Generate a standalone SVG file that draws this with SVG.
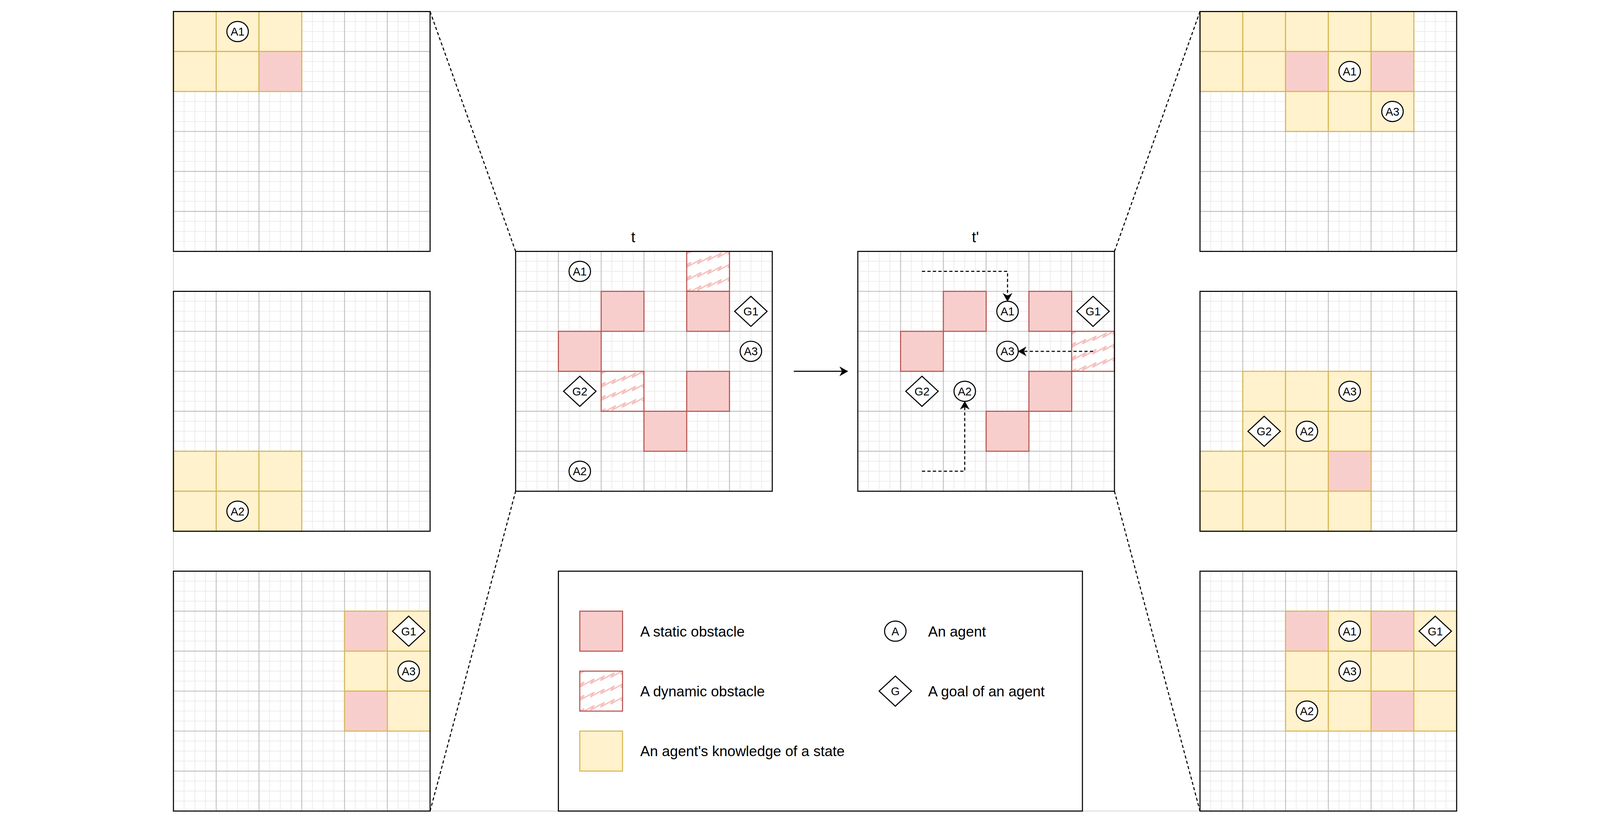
<svg xmlns="http://www.w3.org/2000/svg" width="4168" height="2124" viewBox="0 0 4168 2124">
<style>
.frame{fill:none;stroke:#000;stroke-width:2.7}
.st{fill:#f8cecc;stroke:#b85450;stroke-width:2.7}
.dy{fill:none;stroke:#b85450;stroke-width:2.7}
.kn{fill:#fff2cc;stroke:#d6b656;stroke-width:2.7}
.kr{fill:#f8cecc;stroke:#d6b656;stroke-width:2.7}
.ag{fill:#fff;stroke:#000;stroke-width:2.7}
.lbl{font-family:"Liberation Sans",Arial,sans-serif;font-size:29px;fill:#000;text-anchor:middle}
.txt{font-family:"Liberation Sans",Arial,sans-serif;font-size:37px;fill:#000}
.ttl{font-family:"Liberation Sans",Arial,sans-serif;font-size:38px;fill:#000;text-anchor:middle}
.dash{fill:none;stroke:#000;stroke-width:2.7;stroke-dasharray:8 6}
.minor{fill:none;stroke:#eeeeee;stroke-width:2.2}
.major{fill:none;stroke:#c2c2c2;stroke-width:2.4}
</style>
<defs>
<g id="grid">
<rect width="657" height="613.8" fill="#fff"/>
<path class="minor" d="M27.375 0V613.8M54.75 0V613.8M82.125 0V613.8M136.875 0V613.8M164.25 0V613.8M191.625 0V613.8M246.375 0V613.8M273.75 0V613.8M301.125 0V613.8M355.875 0V613.8M383.25 0V613.8M410.625 0V613.8M465.375 0V613.8M492.75 0V613.8M520.125 0V613.8M574.875 0V613.8M602.25 0V613.8M629.625 0V613.8M0 25.575H657M0 51.15H657M0 76.725H657M0 127.875H657M0 153.45H657M0 179.025H657M0 230.175H657M0 255.75H657M0 281.325H657M0 332.475H657M0 358.05H657M0 383.625H657M0 434.775H657M0 460.35H657M0 485.925H657M0 537.075H657M0 562.65H657M0 588.225H657"/>
<path class="major" d="M109.5 0V613.8M219 0V613.8M328.5 0V613.8M438 0V613.8M547.5 0V613.8M0 102.3H657M0 204.6H657M0 306.9H657M0 409.2H657M0 511.5H657"/>
</g>
<clipPath id="cellclip"><rect width="109.5" height="102.3"/></clipPath>
<g id="zz">
<rect width="109.5" height="102.3" fill="#fff"/>
<g clip-path="url(#cellclip)" fill="none" stroke="#f4c0bd" stroke-width="3.4" stroke-linejoin="miter">
<path d="M-25 -20l36-20-10 12 36-20-10 12 36-20-10 12 36-20-10 12 36-20-10 12 36-20-10 12 36-20-10 12"/>
<path d="M-25 14l36-20-10 12 36-20-10 12 36-20-10 12 36-20-10 12 36-20-10 12 36-20-10 12 36-20-10 12"/>
<path d="M-25 48l36-20-10 12 36-20-10 12 36-20-10 12 36-20-10 12 36-20-10 12 36-20-10 12 36-20-10 12"/>
<path d="M-25 82l36-20-10 12 36-20-10 12 36-20-10 12 36-20-10 12 36-20-10 12 36-20-10 12 36-20-10 12"/>
<path d="M-25 116l36-20-10 12 36-20-10 12 36-20-10 12 36-20-10 12 36-20-10 12 36-20-10 12 36-20-10 12"/>
<path d="M-25 150l36-20-10 12 36-20-10 12 36-20-10 12 36-20-10 12 36-20-10 12 36-20-10 12 36-20-10 12"/>
<path d="M-25 184l36-20-10 12 36-20-10 12 36-20-10 12 36-20-10 12 36-20-10 12 36-20-10 12 36-20-10 12"/>
</g>
</g>
<marker id="arr" markerUnits="userSpaceOnUse" markerWidth="22" markerHeight="25" viewBox="0 0 22 25" refX="21" refY="12.5" orient="auto"><path d="M0,0L22,12.5L0,25L6.6,12.5Z" fill="#000"/></marker>
</defs>

<rect id="page-outline" x="444" y="29.5" width="3285" height="2046" fill="none" stroke="#d6d6d6" stroke-width="2"/>

<g id="panel-top-left">
<use href="#grid" x="444" y="29.5"/>
<rect class="kn" x="444" y="29.5" width="109.5" height="102.3"/>
<rect class="kn" x="553.5" y="29.5" width="109.5" height="102.3"/>
<rect class="kn" x="663" y="29.5" width="109.5" height="102.3"/>
<rect class="kn" x="444" y="131.8" width="109.5" height="102.3"/>
<rect class="kn" x="553.5" y="131.8" width="109.5" height="102.3"/>
<rect class="kr" x="663" y="131.8" width="109.5" height="102.3"/>
<rect class="frame" x="444" y="29.5" width="657" height="613.8"/>
<ellipse class="ag" cx="608.25" cy="80.65" rx="27.5" ry="25.8"/><text class="lbl" x="608.25" y="91.05">A1</text>
</g>

<g id="panel-mid-left">
<use href="#grid" x="444" y="745.6"/>
<rect class="kn" x="444" y="1154.8" width="109.5" height="102.3"/>
<rect class="kn" x="553.5" y="1154.8" width="109.5" height="102.3"/>
<rect class="kn" x="663" y="1154.8" width="109.5" height="102.3"/>
<rect class="kn" x="444" y="1257.1" width="109.5" height="102.3"/>
<rect class="kn" x="553.5" y="1257.1" width="109.5" height="102.3"/>
<rect class="kn" x="663" y="1257.1" width="109.5" height="102.3"/>
<rect class="frame" x="444" y="745.6" width="657" height="613.8"/>
<ellipse class="ag" cx="608.25" cy="1308.25" rx="27.5" ry="25.8"/><text class="lbl" x="608.25" y="1318.65">A2</text>
</g>

<g id="panel-bottom-left">
<use href="#grid" x="444" y="1461.7"/>
<rect class="kr" x="882" y="1564" width="109.5" height="102.3"/>
<rect class="kn" x="991.5" y="1564" width="109.5" height="102.3"/>
<rect class="kn" x="882" y="1666.3" width="109.5" height="102.3"/>
<rect class="kn" x="991.5" y="1666.3" width="109.5" height="102.3"/>
<rect class="kr" x="882" y="1768.6" width="109.5" height="102.3"/>
<rect class="kn" x="991.5" y="1768.6" width="109.5" height="102.3"/>
<rect class="frame" x="444" y="1461.7" width="657" height="613.8"/>
<polygon class="ag" points="1046.25,1576.65 1087.75,1615.15 1046.25,1653.65 1004.75,1615.15"/><text class="lbl" x="1046.25" y="1625.55">G1</text>
<ellipse class="ag" cx="1046.25" cy="1717.45" rx="27.5" ry="25.8"/><text class="lbl" x="1046.25" y="1727.85">A3</text>
</g>

<g id="panel-t">
<text class="ttl" x="1621" y="620">t</text>
<use href="#grid" x="1320" y="643.3"/>
<use href="#zz" x="1758" y="643.3"/><rect class="dy" x="1758" y="643.3" width="109.5" height="102.3"/>
<rect class="st" x="1539" y="745.6" width="109.5" height="102.3"/>
<rect class="st" x="1758" y="745.6" width="109.5" height="102.3"/>
<rect class="st" x="1429.5" y="847.9" width="109.5" height="102.3"/>
<use href="#zz" x="1539" y="950.2"/><rect class="dy" x="1539" y="950.2" width="109.5" height="102.3"/>
<rect class="st" x="1758" y="950.2" width="109.5" height="102.3"/>
<rect class="st" x="1648.5" y="1052.5" width="109.5" height="102.3"/>
<rect class="frame" x="1320" y="643.3" width="657" height="613.8"/>
<ellipse class="ag" cx="1484.25" cy="694.45" rx="27.5" ry="25.8"/><text class="lbl" x="1484.25" y="704.85">A1</text>
<polygon class="ag" points="1922.25,758.25 1963.75,796.75 1922.25,835.25 1880.75,796.75"/><text class="lbl" x="1922.25" y="807.15">G1</text>
<ellipse class="ag" cx="1922.25" cy="899.05" rx="27.5" ry="25.8"/><text class="lbl" x="1922.25" y="909.45">A3</text>
<polygon class="ag" points="1484.25,962.85 1525.75,1001.35 1484.25,1039.85 1442.75,1001.35"/><text class="lbl" x="1484.25" y="1011.75">G2</text>
<ellipse class="ag" cx="1484.25" cy="1205.95" rx="27.5" ry="25.8"/><text class="lbl" x="1484.25" y="1216.35">A2</text>
</g>

<g id="panel-t-prime">
<text class="ttl" x="2497" y="620">t'</text>
<use href="#grid" x="2196" y="643.3"/>
<rect class="st" x="2415" y="745.6" width="109.5" height="102.3"/>
<rect class="st" x="2634" y="745.6" width="109.5" height="102.3"/>
<rect class="st" x="2305.5" y="847.9" width="109.5" height="102.3"/>
<use href="#zz" x="2743.5" y="847.9"/><rect class="dy" x="2743.5" y="847.9" width="109.5" height="102.3"/>
<rect class="st" x="2634" y="950.2" width="109.5" height="102.3"/>
<rect class="st" x="2524.5" y="1052.5" width="109.5" height="102.3"/>
<rect class="frame" x="2196" y="643.3" width="657" height="613.8"/>
<ellipse class="ag" cx="2579.25" cy="796.75" rx="27.5" ry="25.8"/><text class="lbl" x="2579.25" y="807.15">A1</text>
<polygon class="ag" points="2798.25,758.25 2839.75,796.75 2798.25,835.25 2756.75,796.75"/><text class="lbl" x="2798.25" y="807.15">G1</text>
<ellipse class="ag" cx="2579.25" cy="899.05" rx="27.5" ry="25.8"/><text class="lbl" x="2579.25" y="909.45">A3</text>
<polygon class="ag" points="2360.25,962.85 2401.75,1001.35 2360.25,1039.85 2318.75,1001.35"/><text class="lbl" x="2360.25" y="1011.75">G2</text>
<ellipse class="ag" cx="2469.75" cy="1001.35" rx="27.5" ry="25.8"/><text class="lbl" x="2469.75" y="1011.75">A2</text>
</g>

<g id="panel-top-right">
<use href="#grid" x="3072" y="29.5"/>
<rect class="kn" x="3072" y="29.5" width="109.5" height="102.3"/>
<rect class="kn" x="3181.5" y="29.5" width="109.5" height="102.3"/>
<rect class="kn" x="3291" y="29.5" width="109.5" height="102.3"/>
<rect class="kn" x="3400.5" y="29.5" width="109.5" height="102.3"/>
<rect class="kn" x="3510" y="29.5" width="109.5" height="102.3"/>
<rect class="kn" x="3072" y="131.8" width="109.5" height="102.3"/>
<rect class="kn" x="3181.5" y="131.8" width="109.5" height="102.3"/>
<rect class="kr" x="3291" y="131.8" width="109.5" height="102.3"/>
<rect class="kn" x="3400.5" y="131.8" width="109.5" height="102.3"/>
<rect class="kr" x="3510" y="131.8" width="109.5" height="102.3"/>
<rect class="kn" x="3291" y="234.1" width="109.5" height="102.3"/>
<rect class="kn" x="3400.5" y="234.1" width="109.5" height="102.3"/>
<rect class="kn" x="3510" y="234.1" width="109.5" height="102.3"/>
<rect class="frame" x="3072" y="29.5" width="657" height="613.8"/>
<ellipse class="ag" cx="3455.25" cy="182.95" rx="27.5" ry="25.8"/><text class="lbl" x="3455.25" y="193.35">A1</text>
<ellipse class="ag" cx="3564.75" cy="285.25" rx="27.5" ry="25.8"/><text class="lbl" x="3564.75" y="295.65">A3</text>
</g>

<g id="panel-mid-right">
<use href="#grid" x="3072" y="745.6"/>
<rect class="kn" x="3181.5" y="950.2" width="109.5" height="102.3"/>
<rect class="kn" x="3291" y="950.2" width="109.5" height="102.3"/>
<rect class="kn" x="3400.5" y="950.2" width="109.5" height="102.3"/>
<rect class="kn" x="3181.5" y="1052.5" width="109.5" height="102.3"/>
<rect class="kn" x="3291" y="1052.5" width="109.5" height="102.3"/>
<rect class="kn" x="3400.5" y="1052.5" width="109.5" height="102.3"/>
<rect class="kn" x="3072" y="1154.8" width="109.5" height="102.3"/>
<rect class="kn" x="3181.5" y="1154.8" width="109.5" height="102.3"/>
<rect class="kn" x="3291" y="1154.8" width="109.5" height="102.3"/>
<rect class="kr" x="3400.5" y="1154.8" width="109.5" height="102.3"/>
<rect class="kn" x="3072" y="1257.1" width="109.5" height="102.3"/>
<rect class="kn" x="3181.5" y="1257.1" width="109.5" height="102.3"/>
<rect class="kn" x="3291" y="1257.1" width="109.5" height="102.3"/>
<rect class="kn" x="3400.5" y="1257.1" width="109.5" height="102.3"/>
<rect class="frame" x="3072" y="745.6" width="657" height="613.8"/>
<ellipse class="ag" cx="3455.25" cy="1001.35" rx="27.5" ry="25.8"/><text class="lbl" x="3455.25" y="1011.75">A3</text>
<polygon class="ag" points="3236.25,1065.15 3277.75,1103.65 3236.25,1142.15 3194.75,1103.65"/><text class="lbl" x="3236.25" y="1114.05">G2</text>
<ellipse class="ag" cx="3345.75" cy="1103.65" rx="27.5" ry="25.8"/><text class="lbl" x="3345.75" y="1114.05">A2</text>
</g>

<g id="panel-bottom-right">
<use href="#grid" x="3072" y="1461.7"/>
<rect class="kr" x="3291" y="1564" width="109.5" height="102.3"/>
<rect class="kn" x="3400.5" y="1564" width="109.5" height="102.3"/>
<rect class="kr" x="3510" y="1564" width="109.5" height="102.3"/>
<rect class="kn" x="3619.5" y="1564" width="109.5" height="102.3"/>
<rect class="kn" x="3291" y="1666.3" width="109.5" height="102.3"/>
<rect class="kn" x="3400.5" y="1666.3" width="109.5" height="102.3"/>
<rect class="kn" x="3510" y="1666.3" width="109.5" height="102.3"/>
<rect class="kn" x="3619.5" y="1666.3" width="109.5" height="102.3"/>
<rect class="kn" x="3291" y="1768.6" width="109.5" height="102.3"/>
<rect class="kn" x="3400.5" y="1768.6" width="109.5" height="102.3"/>
<rect class="kr" x="3510" y="1768.6" width="109.5" height="102.3"/>
<rect class="kn" x="3619.5" y="1768.6" width="109.5" height="102.3"/>
<rect class="frame" x="3072" y="1461.7" width="657" height="613.8"/>
<ellipse class="ag" cx="3455.25" cy="1615.15" rx="27.5" ry="25.8"/><text class="lbl" x="3455.25" y="1625.55">A1</text>
<polygon class="ag" points="3674.25,1576.65 3715.75,1615.15 3674.25,1653.65 3632.75,1615.15"/><text class="lbl" x="3674.25" y="1625.55">G1</text>
<ellipse class="ag" cx="3455.25" cy="1717.45" rx="27.5" ry="25.8"/><text class="lbl" x="3455.25" y="1727.85">A3</text>
<ellipse class="ag" cx="3345.75" cy="1819.75" rx="27.5" ry="25.8"/><text class="lbl" x="3345.75" y="1830.15">A2</text>
</g>

<g id="legend">
<rect x="1429.5" y="1461.7" width="1341.5" height="613.8" fill="#fff" stroke="#000" stroke-width="2.7"/>
<rect class="st" x="1484.25" y="1564" width="109.5" height="102.3"/>
<text class="txt" x="1639" y="1628.5">A static obstacle</text>
<use href="#zz" x="1484.25" y="1717.45"/><rect class="dy" x="1484.25" y="1717.45" width="109.5" height="102.3"/>
<text class="txt" x="1639" y="1782">A dynamic obstacle</text>
<rect class="kn" x="1484.25" y="1870.9" width="109.5" height="102.3"/>
<text class="txt" x="1639" y="1935.3">An agent's knowledge of a state</text>
<ellipse class="ag" cx="2292" cy="1615.15" rx="27.5" ry="25.8"/><text class="lbl" x="2292" y="1625.55">A</text>
<text class="txt" x="2376" y="1628.5">An agent</text>
<polygon class="ag" points="2292,1730.1 2333.5,1768.6 2292,1807.1 2250.5,1768.6"/><text class="lbl" x="2292" y="1779">G</text>
<text class="txt" x="2376" y="1782">A goal of an agent</text>
</g>

<g id="connectors">
<path class="dash" d="M1101,29.5L1320,643.3"/>
<path class="dash" d="M1101,2075.5L1320,1257.1"/>
<path class="dash" d="M2853,643.3L3072,29.5"/>
<path class="dash" d="M2853,1257.1L3072,2075.5"/>
<path d="M2032,950.2H2170" fill="none" stroke="#000" stroke-width="2.7" marker-end="url(#arr)"/>
<path class="dash" d="M2360.25,694.45H2579.25V770.9" marker-end="url(#arr)"/>
<path class="dash" d="M2798.25,899.05H2606.75" marker-end="url(#arr)"/>
<path class="dash" d="M2360.25,1205.95H2469.75V1027.15" marker-end="url(#arr)"/>
</g>
</svg>
